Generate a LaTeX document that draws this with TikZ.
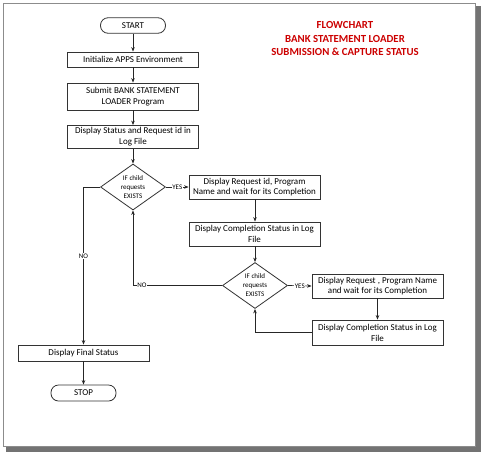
\documentclass[tikz,border=0pt]{standalone}
\usepackage{fontspec}
\setmainfont{Carlito}
\usetikzlibrary{shapes.geometric,arrows.meta}
\begin{document}
\begin{tikzpicture}[x=1pt,y=-1pt,
  box/.style={draw=black!80, line width=0.8pt, minimum width=131pt, minimum height=15pt, align=center, font=\fontsize{9}{10.8}\selectfont, inner sep=1pt},
  term/.style={draw=black!80, line width=0.8pt, rounded corners=7.5pt, minimum width=65pt, minimum height=15.5pt, font=\fontsize{9}{10}\selectfont, inner sep=1pt},
  dec/.style={draw=black!80, line width=0.8pt, diamond, aspect=1.41, minimum width=65pt, minimum height=46pt, align=center, font=\fontsize{7}{9}\selectfont, inner sep=0pt},
  lbl/.style={fill=white, font=\fontsize{7}{8}\selectfont, inner sep=0.6pt},
  arr/.style={draw=black!85, line width=0.7pt, -{Stealth[length=4.5pt,width=3.5pt]}},
  ttl/.style={text=red!80!black, font=\fontsize{10.8}{13.5}\selectfont\bfseries, align=center}]
\useasboundingbox (0,0) rectangle (484,456);
\fill[black!55] (6,6) rectangle (481,452);
\draw[black!45, fill=white, line width=1pt] (3,3) rectangle (475,446);

\node[ttl] (title) at (345,38.5) {FLOWCHART\\BANK STATEMENT LOADER\\SUBMISSION \& CAPTURE STATUS};

\node[term] (start) at (133,25.5) {START};
\node[box] (init) at (133,59.5) {Initialize APPS Environment};
\node[box, minimum height=27pt] (submit) at (133,96.5) {Submit BANK STATEMENT\\LOADER Program};
\node[box, minimum height=23pt] (status) at (133,137) {Display Status and Request id in\\Log File};
\node[dec] (d1) at (133,187) {IF child\\requests\\EXISTS};
\node[box, minimum height=24pt] (req1) at (254.5,187) {Display Request id, Program\\Name and wait for its Completion};
\node[box, minimum height=24pt] (comp1) at (254.5,234) {Display Completion Status in Log\\File};
\node[dec] (d2) at (255,285.5) {IF child\\requests\\EXISTS};
\node[box, minimum height=24pt] (req2) at (377.5,286) {Display Request , Program Name\\and wait for its Completion};
\node[box, minimum height=25pt] (comp2) at (377.5,332.5) {Display Completion Status in Log\\File};
\node[box, minimum height=16pt] (final) at (83.5,353) {Display Final Status};
\node[term, minimum height=16pt] (stop) at (83.5,393) {STOP};

\draw[arr] (start) -- (init);
\draw[arr] (init) -- (submit);
\draw[arr] (submit) -- (status);
\draw[arr] (status) -- (d1);
\draw[arr] (d1.east) -- node[lbl]{YES} (req1.west);
\draw[arr] (req1.south -| d2.north) -- (comp1.north -| d2.north);
\draw[arr] (comp1.south -| d2.north) -- (d2.north);
\draw[arr] (d2.east) -- node[lbl]{YES} (req2.west);
\draw[arr] (req2) -- (comp2);
\draw[arr] (comp2.west) -| (d2.south);
\draw[arr] (d2.west) -- node[lbl, pos=0.9]{NO} (d1.south |- d2.west) -- (d1.south);
\draw[arr] (d1.west) -- (final.north |- d1.west) -- node[lbl, pos=0.44]{NO} (final.north);
\draw[arr] (final) -- (stop);
\end{tikzpicture}
\end{document}
